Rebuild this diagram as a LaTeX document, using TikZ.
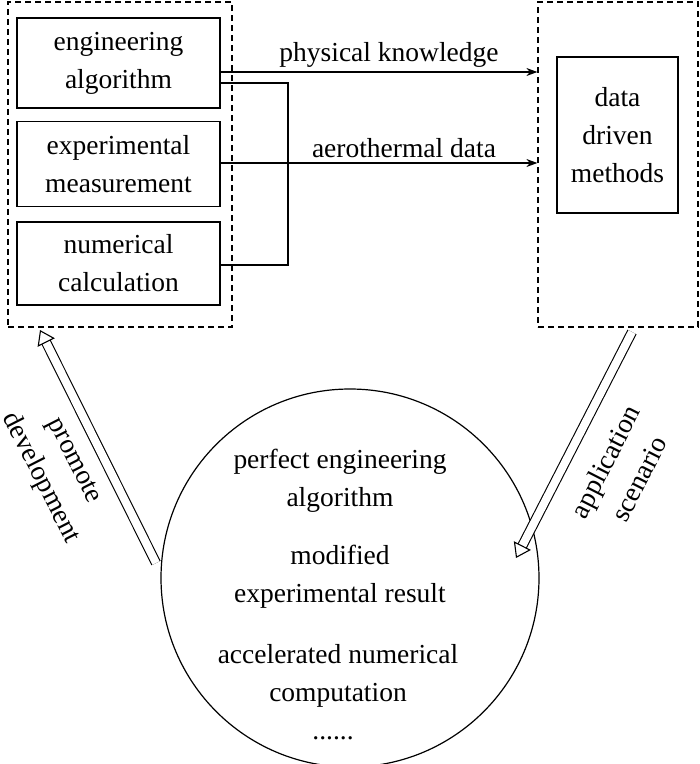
\documentclass[tikz,border=0pt]{standalone}
\usepackage{fontspec}
\setmainfont{Liberation Serif}
\usetikzlibrary{arrows.meta,shapes.arrows}
\begin{document}
\begin{tikzpicture}[x=1pt,y=-1pt,
  every node/.style={font=\fontsize{27.5}{38}\selectfont, align=center},
  box/.style={draw, line width=1.2pt, minimum width=203pt, inner sep=0pt},
  dbox/.style={draw, dash pattern=on 6pt off 4pt, line width=1.2pt},
  arr/.style={-{Stealth[length=11pt,width=8pt]}, line width=1.2pt},
  hollow/.style={double, double distance=8pt, line width=1.1pt, -{Triangle[open,length=14pt,width=19pt]}}]
\useasboundingbox (0,0) rectangle (700,764);
\node[dbox, minimum width=224pt, minimum height=325pt] (L) at (120,164.5) {};
\node[dbox, minimum width=160pt, minimum height=325pt] (R) at (618,164.5) {};
\node[box, minimum height=90pt] (b1) at (118.5,63) {engineering\\algorithm};
\node[box, minimum height=85pt] (b2) at (118.5,164) {experimental\\measurement};
\node[box, minimum height=83pt] (b3) at (118.5,263.5) {numerical\\calculation};
\node[draw, line width=1.2pt, minimum width=121pt, minimum height=156pt] (dd) at (617.5,135) {data\\driven\\methods};
\coordinate (t1) at (L.east |- 0,72);
\coordinate (t2) at (L.east |- 0,163);
\draw[arr] (b1.east |- t1) -- node[above, yshift=1pt, xshift=10pt]{physical knowledge} (R.west |- t1);
\draw[arr] (b2.east |- t2) -- node[above, yshift=1pt, xshift=25pt]{aerothermal data} (R.west |- t2);
\coordinate (k1) at (288,83);
\coordinate (k2) at (288,265);
\draw[line width=1.2pt] (b1.east |- k1) -- (k1) -- (k2) -- (b3.east |- k2);
\node[draw, circle, line width=1.2pt, minimum size=378pt, inner sep=0pt] (C) at (350,578) {};
\node at (340,481) {perfect engineering\\algorithm};
\node at (340,577) {modified\\experimental result};
\node at (338,676) {accelerated numerical\\computation};
\node at (333,738) {......};
\coordinate (la) at (156,563);
\coordinate (lb) at (40,330);
\coordinate (ra) at (632,332);
\coordinate (rb) at (516,558);
\draw[hollow] (la) -- (lb);
\draw[hollow] (ra) -- (rb);
\node[rotate=-63] at (56,470) {promote\\development};
\node[rotate=63] at (622,470) {application\\scenario};
\end{tikzpicture}
\end{document}
